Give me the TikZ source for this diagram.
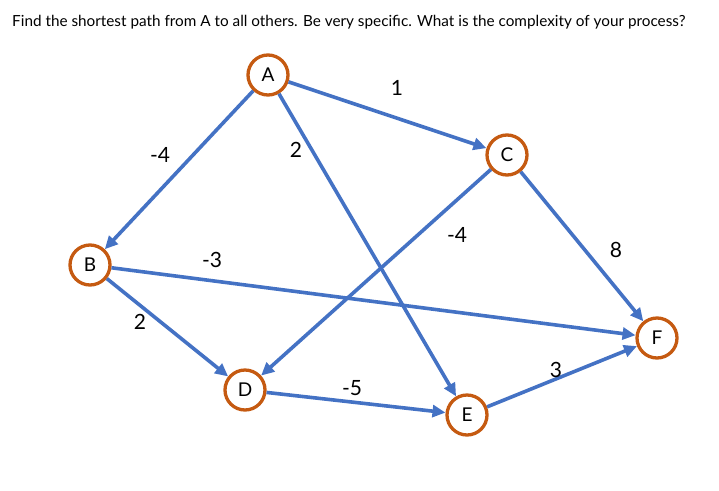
\documentclass[tikz,border=0pt]{standalone}
\usepackage{fontspec}
\setmainfont{Lato}
\usetikzlibrary{arrows.meta}
\definecolor{vertexorange}{HTML}{C55A11}
\definecolor{edgeblue}{HTML}{4472C4}
\tikzset{
  vertex/.style={circle, draw=vertexorange, line width=3.3pt, fill=white,
    minimum size=40pt, inner sep=0pt, font=\fontsize{19}{19}\selectfont},
  link/.style={draw=edgeblue, line width=3.6pt, -{Triangle[length=13pt,width=12pt]}},
  weight/.style={font=\fontsize{21}{21}\selectfont},
}
\begin{document}
\begin{tikzpicture}[x=1pt,y=-1pt]
\useasboundingbox (0,0) rectangle (719,490);
\node[anchor=west, inner sep=0pt, font=\fontsize{15.3}{15.3}\selectfont] (title) at (12,22)
  {Find the shortest path from A to all others. Be very specific. What is the complexity of your process?};
% vertices
\node[vertex] (a) at (268,75) {A};
\node[vertex] (b) at (90,265) {B};
\node[vertex] (c) at (507,155) {C};
\node[vertex] (d) at (245,390) {D};
\node[vertex] (e) at (467,415) {E};
\node[vertex] (f) at (657,338) {F};
% edges
\draw[link] (a) -- (b);
\draw[link] (a) -- (c);
\draw[link] (a) -- (e);
\draw[link] (b) -- (d);
\draw[link] (b) -- (f);
\draw[link] (c) -- (d);
\draw[link] (c) -- (f);
\draw[link] (d) -- (e);
\draw[link] (e) -- (f);
% weights
\node[weight] (wab) at (160,155) {-4};
\node[weight] (wac) at (397,88) {1};
\node[weight] (wae) at (296,150) {2};
\node[weight] (wcd) at (457,235) {-4};
\node[weight] (wcf) at (616,250) {8};
\node[weight] (wbf) at (212,260) {-3};
\node[weight] (wbd) at (140,322) {2};
\node[weight] (wde) at (352,388) {-5};
\node[weight] (wef) at (556,370) {3};
\end{tikzpicture}
\end{document}
